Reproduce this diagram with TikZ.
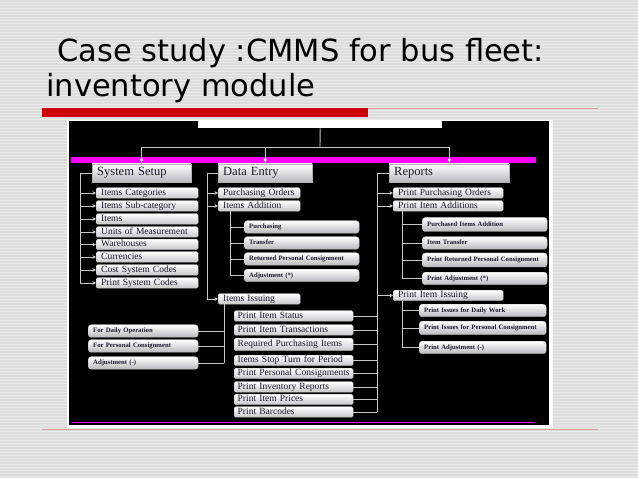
\documentclass[tikz,border=0pt]{standalone}
\usepackage{fontspec}
\setmainfont{Liberation Serif}
\newfontfamily\titlefont{DejaVu Sans}
\usetikzlibrary{arrows.meta}
\definecolor{bgA}{RGB}{234,234,234}
\definecolor{bgB}{RGB}{221,221,221}
\definecolor{redbar}{RGB}{204,0,0}
\definecolor{pinkline}{RGB}{228,150,150}
\definecolor{magbar}{RGB}{255,0,255}
\definecolor{conn}{RGB}{200,200,200}
\definecolor{boxbot}{RGB}{185,185,190}
\definecolor{txt}{RGB}{25,25,45}
\tikzset{
  hdr/.style={draw=gray!60, top color=white, bottom color=boxbot, anchor=west,
    minimum height=18, inner xsep=5, inner ysep=0, text width=#1, align=left,
    font=\fontsize{12.5}{14}\selectfont, text=txt, text height=8.5, text depth=2.5},
  itm/.style={draw=gray!50, top color=white, bottom color=boxbot!80, rounded corners=1.5,
    anchor=west, minimum height=10.5, inner xsep=5, inner ysep=0, text width=#1, align=left,
    font=\fontsize{9.5}{10}\selectfont, text=txt, text height=6.6, text depth=1.9},
  subb/.style={draw=gray!50, top color=white, bottom color=boxbot, rounded corners=3,
    anchor=west, minimum height=12.5, inner xsep=5, inner ysep=0, text width=#1, align=left,
    font=\bfseries\fontsize{6.7}{7}\selectfont, text=txt, text height=4.8, text depth=1.5},
  ln/.style={conn, line width=0.9pt},
  arr/.style={conn, line width=0.9pt, -{Stealth[length=3.5pt, width=3.5pt]}}
}
\begin{document}
\begin{tikzpicture}[x=1pt, y=-1pt]
\useasboundingbox (0,0) rectangle (638,478);
% background
\fill[bgA] (0,0) rectangle (638,478);
\foreach \yy in {1,4,...,478} \draw[bgB, line width=1.1pt] (0,\yy) -- (638,\yy);
% title
\node[anchor=base west, inner sep=0, font=\titlefont\fontsize{30.5}{36}\selectfont] (t1) at (57,62) {Case study :CMMS for bus fleet:};
\node[anchor=base west, inner sep=0, font=\titlefont\fontsize{30.5}{36}\selectfont] (t2) at (46,97) {inventory module};
% rules
\fill[redbar] (42,108) rectangle (368,117);
\draw[pinkline, line width=1.2pt] (368,108.6) -- (598,108.6);
\draw[pinkline, line width=1pt] (42,430) -- (598,430);
% panel
\fill[white] (67,120) rectangle (553,428);
\fill[black] (69,121) rectangle (549,425);
\draw[magbar, line width=1pt] (72,422.5) -- (535,422.5);
\node[fill=white, anchor=north west, minimum width=244, minimum height=7, inner sep=0] (tb) at (198,121) {};
\fill[magbar] (71,157) rectangle (536,163);

% headers
\node[hdr=89] (ss) at (92,173) {System Setup};
\node[hdr=84] (de) at (218,173) {Data Entry};
\node[hdr=110] (rep) at (389,173) {Reports};

% System Setup items
\node[itm=92] (ss1) at (96,193) {Items Categories};
\node[itm=92] (ss2) at (96,206) {Items Sub-category};
\node[itm=92] (ss3) at (96,219) {Items};
\node[itm=92] (ss4) at (96,232) {Units of Measurement};
\node[itm=92] (ss5) at (96,244.5) {Warehouses};
\node[itm=92] (ss6) at (96,257) {Currencies};
\node[itm=92] (ss7) at (96,270) {Cost System Codes};
\node[itm=92] (ss8) at (96,283) {Print System Codes};

% Data Entry items
\node[itm=72] (po) at (218,193) {Purchasing Orders};
\node[itm=72] (ia) at (218,206) {Items Addition};
\node[itm=72] (iss) at (218,299) {Items Issuing};
\node[subb=105] (da1) at (244,227) {Purchasing};
\node[subb=105] (da2) at (244,243) {Transfer};
\node[subb=105] (da3) at (244,259) {Returned Personal Consignment};
\node[subb=105] (da4) at (244,275.5) {Adjustment (*)};
\node[subb=100] (lo1) at (88,331) {For Daily Operation};
\node[subb=100] (lo2) at (88,346) {For Personal Consignment};
\node[subb=100] (lo3) at (88,363) {Adjustment (-)};

% middle column
\node[itm=112, inner xsep=3.5] (pm1) at (234,316) {Print Item Status};
\node[itm=112, inner xsep=3.5] (pm2) at (234,330) {Print Item Transactions};
\node[itm=112, inner xsep=3.5, minimum height=12.5] (pm3) at (234,344.5) {Required Purchasing Items};
\node[itm=112, inner xsep=3.5] (pm4) at (234,360.5) {Items Stop Turn for Period};
\node[itm=112, inner xsep=3.5] (pm5) at (234,373.5) {Print Personal Consignments};
\node[itm=112, inner xsep=3.5] (pm6) at (234,387) {Print Inventory Reports};
\node[itm=112, inner xsep=3.5] (pm7) at (234,399.5) {Print Item Prices};
\node[itm=112, inner xsep=3.5] (pm8) at (234,412) {Print Barcodes};

% Reports items
\node[itm=100] (rp1) at (393,193) {Print Purchasing Orders};
\node[itm=100] (rp2) at (393,206) {Print Item Additions};
\node[itm=100] (rp3) at (393,295.5) {Print Item Issuing};
\node[subb=115, minimum height=14] (ra1) at (422,224.5) {Purchased Items Addition};
\node[subb=115] (ra2) at (422,243) {Item Transfer};
\node[subb=115, minimum height=14] (ra3) at (422,260) {Print Returned Personal Consignment};
\node[subb=115] (ra4) at (422,278.5) {Print Adjustment (*)};
\node[subb=117] (rb1) at (419,310.5) {Print Issues for Daily Work};
\node[subb=117, minimum height=13.5] (rb2) at (419,328) {Print Issues for Personal Consignment};
\node[subb=117] (rb3) at (419,347.5) {Print Adjustment (-)};

% top connectors
\coordinate (hb) at (320,147);
\coordinate (mb) at (0,160);
\draw[ln] (tb.south) -- (hb);
\draw[ln] (ss.north) -- (ss.north |- hb) -- (rep.north |- hb) -- (rep.north);
\draw[ln] (de.north) -- (de.north |- hb);
\foreach \n in {ss,de,rep} \fill[white] (\n.north |- mb) circle (1.7);

% System Setup trunk
\coordinate (ssT) at (80,173);
\draw[ln] (ss.west) -- (ssT) -- (ssT |- ss8.west);
\foreach \i in {1,...,8} \draw[arr] (ssT |- ss\i.west) -- (ss\i.west);

% Data Entry trunk
\coordinate (deT) at (207,173);
\draw[ln] (de.west) -- (deT) -- (deT |- iss.west);
\foreach \n in {po,ia,iss} \draw[arr] (deT |- \n.west) -- (\n.west);
\coordinate (iaT) at ([xshift=12]ia.south west);
\draw[ln] (iaT) -- (iaT |- da4.west);
\foreach \i in {1,...,4} \draw[ln] (iaT |- da\i.west) -- (da\i.west);
\coordinate (isT) at ([xshift=6]iss.south west);
\draw[ln] (isT) -- (isT |- lo3.east);
\foreach \i in {1,2,3} \draw[ln] (lo\i.east) -- (isT |- lo\i.east);

% Reports trunk
\coordinate (repT) at (377,173);
\draw[ln] (rep.west) -- (repT) -- (repT |- pm8.east);
\foreach \n in {rp1,rp2,rp3} \draw[arr] (repT |- \n.west) -- (\n.west);
\foreach \i in {1,...,8} \draw[ln] (pm\i.east) -- (repT |- pm\i.east);
\coordinate (raT) at ([xshift=9]rp2.south west);
\draw[ln] (raT) -- (raT |- ra4.west);
\foreach \i in {1,...,4} \draw[ln] (raT |- ra\i.west) -- (ra\i.west);
\coordinate (rbT) at ([xshift=9]rp3.south west);
\draw[ln] (rbT) -- (rbT |- rb3.west);
\foreach \i in {1,2,3} \draw[ln] (rbT |- rb\i.west) -- (rb\i.west);
\end{tikzpicture}
\end{document}
